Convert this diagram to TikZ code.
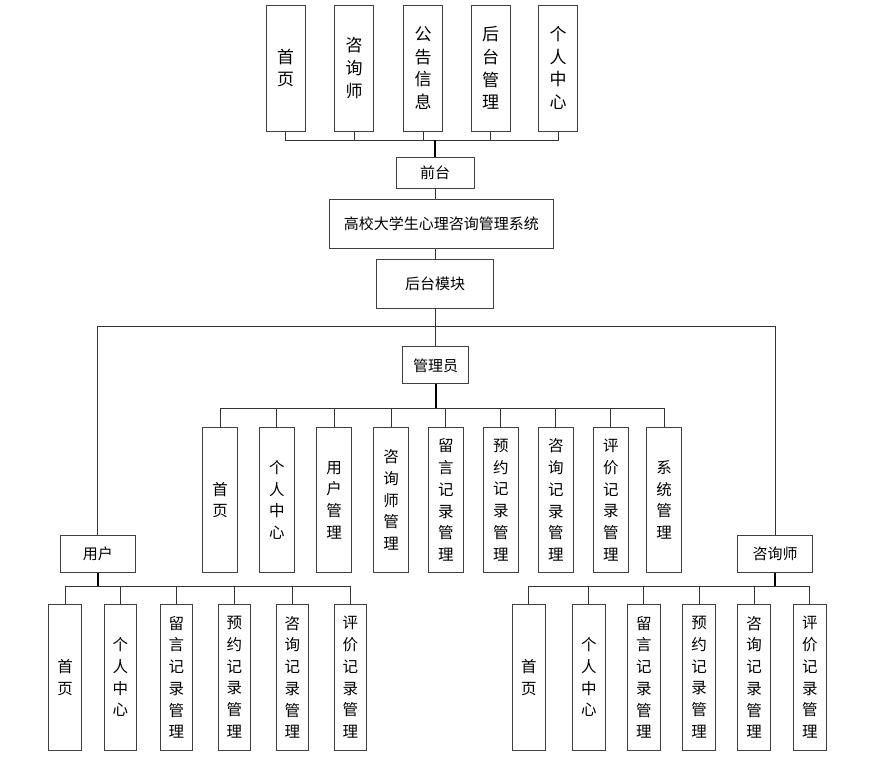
\documentclass[tikz,border=0pt]{standalone}
\usepackage{fontspec}
\newfontfamily\cjk{Noto Sans CJK SC}
\tikzset{
  box/.style={draw=black!75, line width=1pt, inner sep=0pt, align=center, fill=white,
    font=\cjk\fontsize{15}{18}\selectfont},
  topcol/.style={box, minimum width=39pt, minimum height=126pt,
    font=\cjk\fontsize{17}{22.7}\selectfont},
  midcol/.style={box, minimum width=35pt, minimum height=145pt,
    font=\cjk\fontsize{15.5}{21.7}\selectfont},
  lowcol/.style={box, minimum width=32.5pt, minimum height=146pt,
    font=\cjk\fontsize{15.5}{21.7}\selectfont},
  link/.style={black!80, line width=1pt},
  trunk/.style={black, line width=2pt},
}
\begin{document}
\begin{tikzpicture}[x=1pt, y=-1pt]
\useasboundingbox (0,0) rectangle (882,769);
% front end
\node[topcol] (t1) at (285.5,68) {首\\页};
\node[topcol] (t2) at (354,68) {咨\\询\\师};
\node[topcol] (t3) at (423,68) {公\\告\\信\\息};
\node[topcol] (t4) at (490.5,68) {后\\台\\管\\理};
\node[topcol] (t5) at (558,68) {个\\人\\中\\心};
\node[box, minimum width=78pt, minimum height=31pt] (qt) at (435,172.7) {前台};
\node[box, minimum width=224pt, minimum height=49pt] (sys) at (441.3,223.8) {高校大学生心理咨询管理系统};
\node[box, minimum width=116.5pt, minimum height=49pt] (hm) at (435,283.8) {后台模块};
\coordinate (topbus) at (0,140);
\draw[link] (t1.south) |- (t5.south |- topbus) -- (t5.south);
\foreach \n in {t2,t3,t4} \draw[link] (\n.south) -- (\n.south |- topbus);
\draw[trunk] (qt.north) -- (qt.north |- topbus);
\draw[link] (qt.south) -- (qt.south |- sys.north);
\draw[link] (sys.south -| hm.north) -- (hm.north);
% back end
\node[box, minimum width=66.5pt, minimum height=37pt] (gly) at (435.7,365.3) {管理员};
\node[box, minimum width=74.5pt, minimum height=37pt] (yh) at (97.9,554.2) {用户};
\node[box, minimum width=74.5pt, minimum height=37pt] (zxs) at (775,554.2) {咨询师};
\coordinate (split) at (0,326.7);
\draw[link] (hm.south) -- (hm.south |- gly.north);
\draw[link] (yh.north) |- (zxs.north |- split) -- (zxs.north);
% administrator
\node[midcol] (m1) at (220,500) {首\\页};
\node[midcol] (m2) at (276.8,500) {个\\人\\中\\心};
\node[midcol] (m3) at (334,500) {用\\户\\管\\理};
\node[midcol] (m4) at (391,500) {咨\\询\\师\\管\\理};
\node[midcol] (m5) at (445.8,500) {留\\言\\记\\录\\管\\理};
\node[midcol] (m6) at (500.8,500) {预\\约\\记\\录\\管\\理};
\node[midcol] (m7) at (555.8,500) {咨\\询\\记\\录\\管\\理};
\node[midcol] (m8) at (610.8,500) {评\\价\\记\\录\\管\\理};
\node[midcol] (m9) at (664.2,500) {系\\统\\管\\理};
\coordinate (midbus) at (0,408.3);
\draw[link] (m1.north) |- (m9.north |- midbus) -- (m9.north);
\foreach \n in {m2,m3,m4,m5,m6,m7,m8} \draw[link] (\n.north) -- (\n.north |- midbus);
\draw[trunk] (gly.south) -- (gly.south |- midbus);
% user
\node[lowcol] (u1) at (65,677.3) {首\\页};
\node[lowcol] (u2) at (120.3,677.3) {个\\人\\中\\心};
\node[lowcol] (u3) at (176.3,677.3) {留\\言\\记\\录\\管\\理};
\node[lowcol] (u4) at (234.3,677.3) {预\\约\\记\\录\\管\\理};
\node[lowcol] (u5) at (292.3,677.3) {咨\\询\\记\\录\\管\\理};
\node[lowcol] (u6) at (350.3,677.3) {评\\价\\记\\录\\管\\理};
% counsellor
\node[lowcol] (c1) at (528.8,677.3) {首\\页};
\node[lowcol] (c2) at (588.8,677.3) {个\\人\\中\\心};
\node[lowcol] (c3) at (643.8,677.3) {留\\言\\记\\录\\管\\理};
\node[lowcol] (c4) at (699,677.3) {预\\约\\记\\录\\管\\理};
\node[lowcol] (c5) at (754.2,677.3) {咨\\询\\记\\录\\管\\理};
\node[lowcol] (c6) at (809.8,677.3) {评\\价\\记\\录\\管\\理};
\coordinate (lowbus) at (0,586);
\draw[link] (u1.north) |- (u6.north |- lowbus) -- (u6.north);
\foreach \n in {u2,u3,u4,u5} \draw[link] (\n.north) -- (\n.north |- lowbus);
\draw[trunk] (yh.south) -- (yh.south |- lowbus);
\draw[link] (c1.north) |- (c6.north |- lowbus) -- (c6.north);
\foreach \n in {c2,c3,c4,c5} \draw[link] (\n.north) -- (\n.north |- lowbus);
\draw[trunk] (zxs.south) -- (zxs.south |- lowbus);
\end{tikzpicture}
\end{document}
